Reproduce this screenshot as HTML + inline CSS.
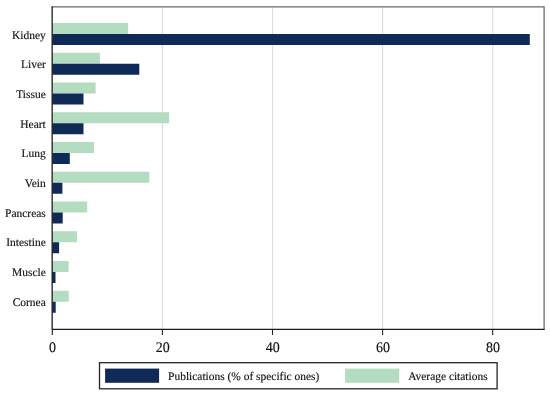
<!DOCTYPE html>
<html><head><meta charset="utf-8"><title>chart</title>
<style>html,body{margin:0;padding:0;background:#fff}svg{display:block}text{font-family:"Liberation Serif",serif;fill:#111;stroke:#111;stroke-width:0.15px;text-rendering:geometricPrecision}</style></head><body>
<svg width="550" height="395" viewBox="0 0 550 395">
<rect width="550" height="395" fill="#fff"/>
<line x1="162.4" y1="6.85" x2="162.4" y2="329.4" stroke="#dcdcdc" stroke-width="1.1"/>
<line x1="272.5" y1="6.85" x2="272.5" y2="329.4" stroke="#dcdcdc" stroke-width="1.1"/>
<line x1="382.6" y1="6.85" x2="382.6" y2="329.4" stroke="#dcdcdc" stroke-width="1.1"/>
<line x1="492.7" y1="6.85" x2="492.7" y2="329.4" stroke="#dcdcdc" stroke-width="1.1"/>
<rect x="52.3" y="23.00" width="75.8" height="11.0" fill="#b3dcc0"/>
<rect x="52.3" y="34.00" width="477.5" height="11.0" fill="#0f2a56"/>
<rect x="52.3" y="52.75" width="47.6" height="11.0" fill="#b3dcc0"/>
<rect x="52.3" y="63.75" width="87.0" height="11.0" fill="#0f2a56"/>
<rect x="52.3" y="82.50" width="43.3" height="11.0" fill="#b3dcc0"/>
<rect x="52.3" y="93.50" width="31.2" height="11.0" fill="#0f2a56"/>
<rect x="52.3" y="112.25" width="116.8" height="11.0" fill="#b3dcc0"/>
<rect x="52.3" y="123.25" width="31.2" height="11.0" fill="#0f2a56"/>
<rect x="52.3" y="142.00" width="41.7" height="11.0" fill="#b3dcc0"/>
<rect x="52.3" y="153.00" width="17.5" height="11.0" fill="#0f2a56"/>
<rect x="52.3" y="171.75" width="97.0" height="11.0" fill="#b3dcc0"/>
<rect x="52.3" y="182.75" width="10.1" height="11.0" fill="#0f2a56"/>
<rect x="52.3" y="201.50" width="34.9" height="11.0" fill="#b3dcc0"/>
<rect x="52.3" y="212.50" width="10.4" height="11.0" fill="#0f2a56"/>
<rect x="52.3" y="231.25" width="24.7" height="11.0" fill="#b3dcc0"/>
<rect x="52.3" y="242.25" width="6.8" height="11.0" fill="#0f2a56"/>
<rect x="52.3" y="261.00" width="16.3" height="11.0" fill="#b3dcc0"/>
<rect x="52.3" y="272.00" width="3.2" height="11.0" fill="#0f2a56"/>
<rect x="52.3" y="290.75" width="16.4" height="11.0" fill="#b3dcc0"/>
<rect x="52.3" y="301.75" width="3.4" height="11.0" fill="#0f2a56"/>
<path d="M52.3 6.85H544.1V329.4" fill="none" stroke="#686868" stroke-width="1.25"/>
<path d="M52.15 6.25V329.4H544.7" fill="none" stroke="#1c1c1c" stroke-width="1.3"/>
<line x1="52.3" y1="329.4" x2="52.3" y2="335.0" stroke="#222" stroke-width="1.1"/>
<text transform="translate(52.6 352.3) scale(1 1.04)" font-size="14" text-anchor="middle">0</text>
<line x1="162.4" y1="329.4" x2="162.4" y2="335.0" stroke="#222" stroke-width="1.1"/>
<text transform="translate(162.7 352.3) scale(1 1.04)" font-size="14" text-anchor="middle">20</text>
<line x1="272.5" y1="329.4" x2="272.5" y2="335.0" stroke="#222" stroke-width="1.1"/>
<text transform="translate(272.8 352.3) scale(1 1.04)" font-size="14" text-anchor="middle">40</text>
<line x1="382.6" y1="329.4" x2="382.6" y2="335.0" stroke="#222" stroke-width="1.1"/>
<text transform="translate(382.9 352.3) scale(1 1.04)" font-size="14" text-anchor="middle">60</text>
<line x1="492.7" y1="329.4" x2="492.7" y2="335.0" stroke="#222" stroke-width="1.1"/>
<text transform="translate(493.0 352.3) scale(1 1.04)" font-size="14" text-anchor="middle">80</text>
<text transform="translate(45.8 38.60) scale(0.99 1)" font-size="11.6" text-anchor="end">Kidney</text>
<text transform="translate(45.8 68.29) scale(0.99 1)" font-size="11.6" text-anchor="end">Liver</text>
<text transform="translate(45.8 97.98) scale(0.99 1)" font-size="11.6" text-anchor="end">Tissue</text>
<text transform="translate(45.8 127.67) scale(0.99 1)" font-size="11.6" text-anchor="end">Heart</text>
<text transform="translate(45.8 157.36) scale(0.99 1)" font-size="11.6" text-anchor="end">Lung</text>
<text transform="translate(45.8 187.05) scale(0.99 1)" font-size="11.6" text-anchor="end">Vein</text>
<text transform="translate(45.8 216.74) scale(0.99 1)" font-size="11.6" text-anchor="end">Pancreas</text>
<text transform="translate(45.8 246.43) scale(0.99 1)" font-size="11.6" text-anchor="end">Intestine</text>
<text transform="translate(45.8 276.12) scale(0.99 1)" font-size="11.6" text-anchor="end">Muscle</text>
<text transform="translate(45.8 305.81) scale(0.99 1)" font-size="11.6" text-anchor="end">Cornea</text>
<rect x="99.5" y="362.7" width="397.6" height="26.1" fill="#fff" stroke="#262626" stroke-width="1.3"/>
<rect x="105.1" y="368.6" width="54" height="14.2" fill="#0f2a56"/>
<text x="168.1" y="379.6" font-size="11.6" textLength="151.2" lengthAdjust="spacingAndGlyphs">Publications (% of specific ones)</text>
<rect x="345.1" y="368.6" width="54.1" height="14.2" fill="#b3dcc0"/>
<text x="408.2" y="379.6" font-size="11.6" textLength="79.4" lengthAdjust="spacingAndGlyphs">Average citations</text>
</svg></body></html>
